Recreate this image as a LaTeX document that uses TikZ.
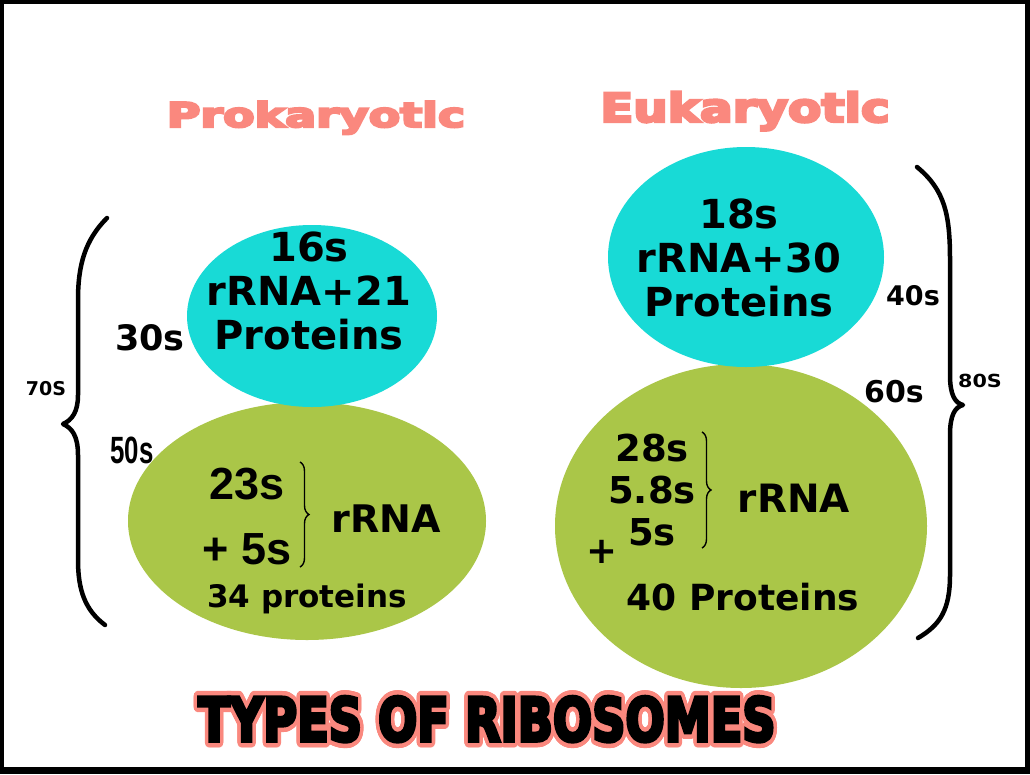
\documentclass[tikz,border=0pt]{standalone}
\usepackage{fontspec}
\setmainfont{DejaVu Sans}
\newfontfamily\narrowfont{Liberation Sans}
\newfontfamily\headfont{DejaVu Sans Bold}[FakeBold=6]
\usepackage{contour}
\contourlength{4.5pt}
\contournumber{24}
\usetikzlibrary{decorations.pathreplacing}
\definecolor{subcyan}{RGB}{24,218,214}
\definecolor{subgreen}{RGB}{170,198,72}
\definecolor{salmon}{RGB}{250,136,126}
\tikzset{
  txt/.style={inner sep=0pt, align=center, text=black},
  head/.style={txt, text=salmon},
  smallbrace/.style={decorate, decoration={brace, amplitude=9pt}, line width=1.4pt},
  bigbrace/.style={line width=4.5pt, line cap=round, line join=round}
}
\begin{document}
\begin{tikzpicture}[x=1pt,y=-1pt]
\fill[black] (0,0) rectangle (1030,774);
\fill[white] (4,4) rectangle (1025,767);
\useasboundingbox (0,0) rectangle (1030,774);

% subunits
\fill[subgreen] (307,521) ellipse [x radius=179, y radius=119];
\fill[subcyan] (312,316) ellipse [x radius=125, y radius=91];
\fill[subgreen] (741,526) ellipse [x radius=186, y radius=162];
\fill[subcyan] (746,257) ellipse [x radius=138, y radius=110];

% headings
\node[head, anchor=base, xscale=1.35, font=\headfont\fontsize{34}{34}\selectfont] (prohead) at (316,127) {Prokaryotic};
\node[head, anchor=base, xscale=1.21, font=\headfont\fontsize{40}{40}\selectfont] (eukhead) at (745,122) {Eukaryotic};

% prokaryotic
\node[txt, font=\bfseries\fontsize{40}{44}\selectfont] (pro30) at (309,291) {16s\\rRNA+21\\Proteins};
\node[txt, anchor=base, font=\bfseries\fontsize{35}{35}\selectfont] (lab30) at (150,350) {30s};
\node[txt, anchor=base, xscale=0.68, font=\narrowfont\bfseries\fontsize{38}{38}\selectfont] (lab50) at (132,463) {50s};
\node[txt, anchor=base, font=\bfseries\fontsize{19}{19}\selectfont] (lab70) at (46,395) {70S};
\node[txt, font=\narrowfont\bfseries\fontsize{45}{65}\selectfont] (pro50) at (247,516) {23s\\+ 5s};
\draw[smallbrace] (300,462) -- (300,567);
\node[txt, anchor=base, font=\bfseries\fontsize{38}{38}\selectfont] (prorna) at (386,532) {rRNA};
\node[txt, anchor=base, font=\bfseries\fontsize{31}{31}\selectfont] (proprot) at (307,607) {34 proteins};
\draw[bigbrace] (107,218) .. controls (85,240) and (78,265) .. (78,300) -- (78,395)
  .. controls (78,412) and (72,420) .. (63,424) .. controls (72,428) and (78,436) .. (78,455)
  -- (78,560) .. controls (78,590) and (85,610) .. (105,625);

% eukaryotic
\node[txt, font=\bfseries\fontsize{40}{44}\selectfont] (euk40) at (739,258) {18s\\rRNA+30\\Proteins};
\node[txt, anchor=base, font=\bfseries\fontsize{27}{27}\selectfont] (lab40) at (913,305) {40s};
\node[txt, anchor=base, font=\bfseries\fontsize{30}{30}\selectfont] (lab60) at (894,402) {60s};
\node[txt, anchor=base, xscale=1.15, font=\bfseries\fontsize{18}{18}\selectfont] (lab80) at (980,387) {80S};
\node[txt, font=\bfseries\fontsize{37}{42}\selectfont] (euk60) at (652,490) {28s\\5.8s\\5s};
\node[txt, font=\bfseries\fontsize{37}{37}\selectfont] (eukplus) at (602,552) {+};
\draw[smallbrace] (702,432) -- (702,548);
\node[txt, anchor=base, font=\bfseries\fontsize{39}{39}\selectfont] (eukrna) at (794,512) {rRNA};
\node[txt, anchor=base, font=\bfseries\fontsize{36}{36}\selectfont] (eukprot) at (743,610) {40 Proteins};
\draw[bigbrace] (917,167) .. controls (945,190) and (950,215) .. (950,260) -- (950,375)
  .. controls (950,395) and (955,403) .. (963,405) .. controls (955,407) and (950,415) .. (950,435)
  -- (950,575) .. controls (950,610) and (940,625) .. (918,638);

% title
\node[txt, anchor=base, xscale=0.77, font=\headfont\fontsize{60}{60}\selectfont] (title) at (487,741) {\contour{salmon}{TYPES OF RIBOSOMES}};
\end{tikzpicture}
\end{document}
